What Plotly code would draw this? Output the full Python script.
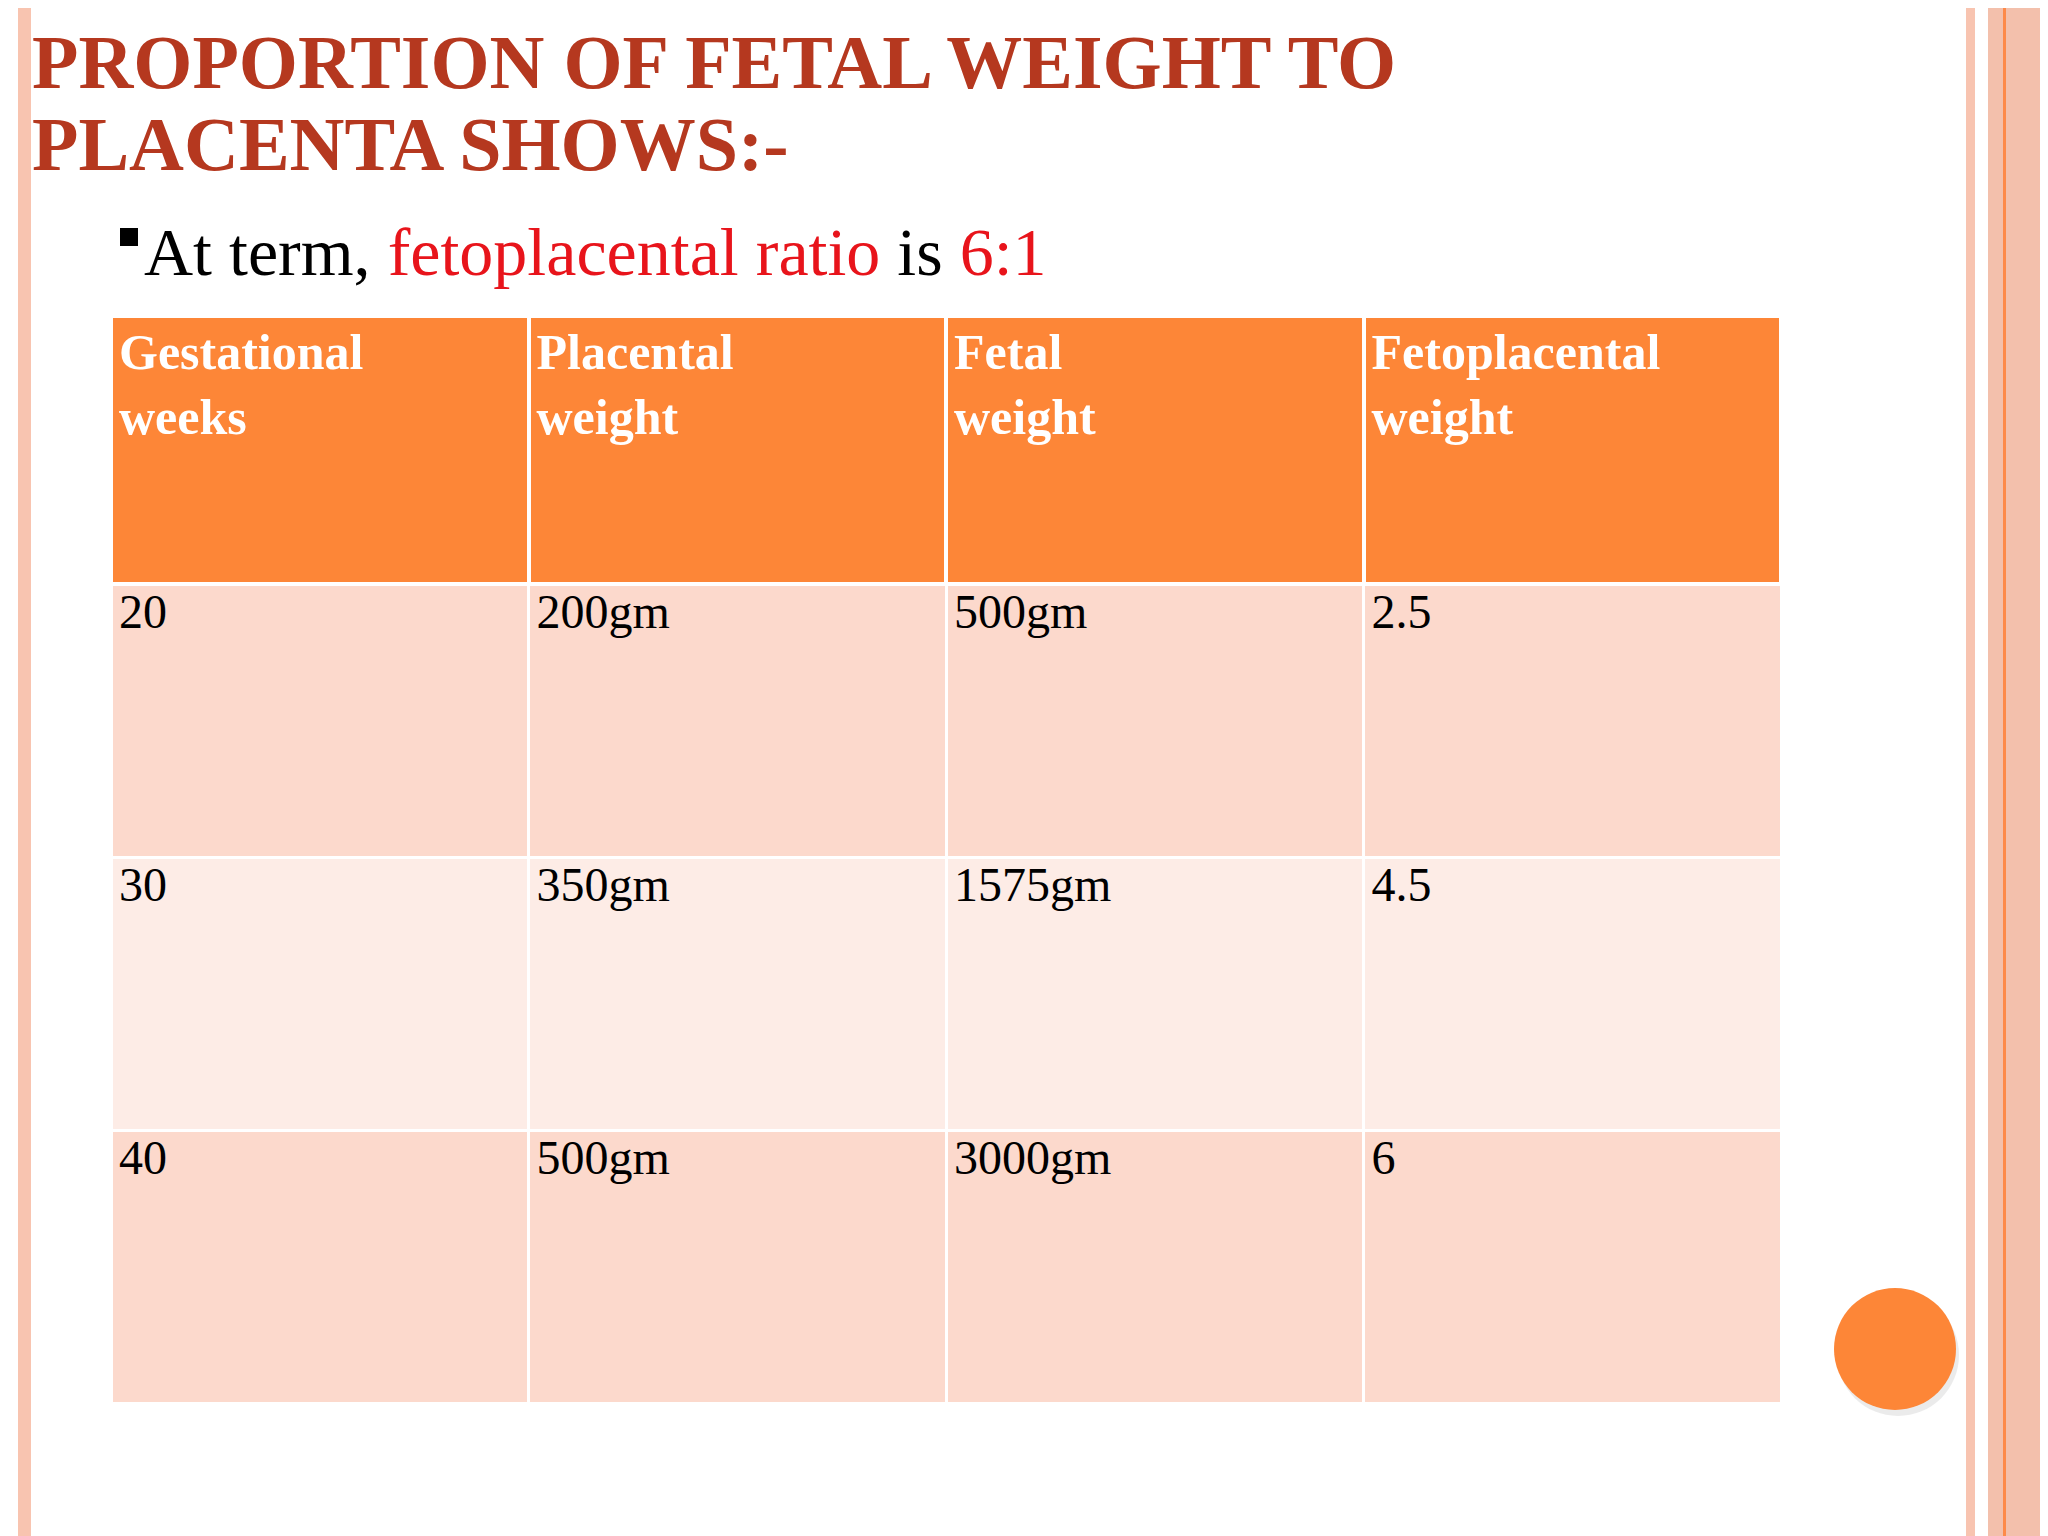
import plotly.graph_objects as go

# ── Data ──────────────────────────────────────────────────────────────────────
headers = ["Gestational<br>weeks", "Placental<br>weight", "Fetal<br>weight", "Fetoplacental<br>weight"]
weeks = ["20", "30", "40"]
placental = ["200gm", "350gm", "500gm"]
fetal = ["500gm", "1575gm", "3000gm"]
ratio = ["2.5", "4.5", "6"]

W, H = 2048, 1536
SERIF = "Liberation Serif"
ORANGE = "#FD8637"
ROW_COLORS = ["#FCD9CC", "#FDECE6", "#FCD9CC"]

fig = go.Figure()

fig.add_trace(go.Table(
    domain=dict(x=[103 / W, 1773 / W], y=[0, 1 - 308 / H]),
    columnwidth=[1, 1, 1, 1],
    header=dict(
        values=[f"<b>{h}</b>" for h in headers],
        fill_color=ORANGE,
        line=dict(color="white", width=4),
        align="left",
        height=268,
        font=dict(family=SERIF, size=50, color="white"),
    ),
    cells=dict(
        values=[weeks, placental, fetal, ratio],
        fill_color=[ROW_COLORS] * 4,
        line=dict(color="white", width=3),
        align="left",
        height=273,
        font=dict(family=SERIF, size=48, color="black"),
    ),
))

# decorative stripes and circle
shapes = [
    dict(type="rect", x0=10, x1=23, y0=0, y1=H, fillcolor="#F8C4B0", line_width=0),
    dict(type="rect", x0=1958, x1=1967, y0=0, y1=H, fillcolor="#F8C4B0", line_width=0),
    dict(type="rect", x0=1980, x1=2048, y0=0, y1=H, fillcolor="#F3C0AC", line_width=0),
    dict(type="rect", x0=1995, x1=1998, y0=0, y1=H, fillcolor="#FD8A4A", line_width=0),
    dict(type="circle", x0=1829, x1=1951, y0=1286, y1=1408, fillcolor="#D8D8D8",
         line_width=0, opacity=0.5),
    dict(type="circle", x0=1826, x1=1948, y0=1280, y1=1402, fillcolor=ORANGE, line_width=0),
    dict(type="rect", x0=112, x1=130, y0=220, y1=238, fillcolor="black", line_width=0),
]
for s in shapes:
    s.update(xref="x", yref="y", layer="above")

annotations = [
    dict(x=22, y=84, text="<b>PROPORTION OF FETAL WEIGHT TO</b>", xanchor="left", yanchor="bottom",
         font=dict(family=SERIF, size=76, color="#B5381F")),
    dict(x=22, y=166, text="<b>PLACENTA SHOWS:-</b>", xanchor="left", yanchor="bottom",
         font=dict(family=SERIF, size=76, color="#B5381F")),
    dict(x=134, y=270, text='At term, <span style="color:#E8141B">fetoplacental ratio</span> is '
                            '<span style="color:#E8141B">6:1</span>',
         xanchor="left", yanchor="bottom", font=dict(family=SERIF, size=68, color="black")),
]
for a in annotations:
    a.update(xref="x", yref="y", showarrow=False, yshift=-14)

fig.update_layout(
    width=W, height=H,
    margin=dict(l=0, r=0, t=0, b=0),
    paper_bgcolor="white", plot_bgcolor="rgba(0,0,0,0)",
    xaxis=dict(range=[0, W], visible=False, fixedrange=True),
    yaxis=dict(range=[H, 0], visible=False, fixedrange=True),
    shapes=shapes, annotations=annotations, showlegend=False,
)

fig.write_html("out.html")
